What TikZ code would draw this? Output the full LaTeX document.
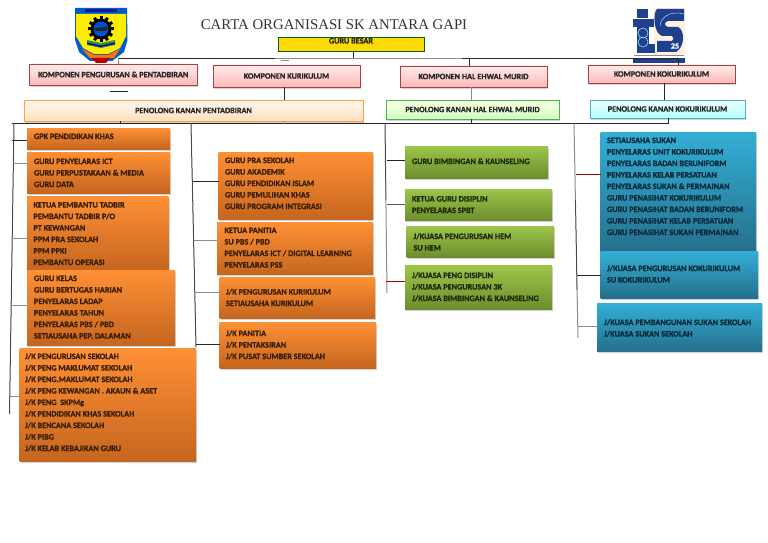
\documentclass[tikz,border=0pt]{standalone}
\usepackage{fontspec}
\setmainfont{Carlito}[BoldFeatures={FakeBold=1.1}]
\newfontfamily\titlefont{Liberation Serif}
\usetikzlibrary{shadows}
\definecolor{orT}{HTML}{FF9035}
\definecolor{orB}{HTML}{C5661F}
\definecolor{grT}{HTML}{9DC54A}
\definecolor{grB}{HTML}{6E8E2E}
\definecolor{blT}{HTML}{33AFD6}
\definecolor{blB}{HTML}{256F8B}
\definecolor{orTx}{HTML}{3A1E05}
\definecolor{grTx}{HTML}{1E2A08}
\definecolor{blTx}{HTML}{0A2A3A}
\definecolor{logoblue}{HTML}{1F3F8F}
\tikzset{
  x=1pt,y=-1pt,
  softshadow/.style={drop shadow={shadow xshift=1pt,shadow yshift=-1.5pt,opacity=.35,fill=black!50}},
  basebox/.style={anchor=north west,inner sep=0pt,outer sep=0pt,font=\fontsize{8.2}{11.5}\selectfont\bfseries},
  orangebox/.style={basebox,softshadow,top color=orT,bottom color=orB,text=orTx},
  greenbox/.style={basebox,softshadow,top color=grT,bottom color=grB,text=grTx},
  bluebox/.style={basebox,softshadow,top color=blT,bottom color=blB,text=blTx},
  komponen/.style={basebox,softshadow,draw=red!55!black!75,line width=.7pt,top color=red!7,bottom color=red!28,text=black!85},
  penP/.style={basebox,softshadow,draw=orange!75,line width=.7pt,top color=orange!6,bottom color=orange!25,text=black!85},
  penH/.style={basebox,softshadow,draw=green!40!gray,line width=.7pt,top color=lime!12,bottom color=lime!35!green!22,text=black!85},
  penK/.style={basebox,softshadow,draw=cyan!60!gray,line width=.7pt,top color=cyan!6,bottom color=cyan!30,text=black!85},
  gurubox/.style={basebox,softshadow,draw=green!40!black,line width=.6pt,fill=yellow!78!orange,text=black!85},
  link/.style={line width=.7pt,draw=black!85},
  linkgray/.style={line width=.8pt,draw=black!45},
  linkred/.style={line width=.7pt,draw=red!65!black},
}
% style, name, x0, y0, x1, y1, first-line offset, left pad, text
\newcommand\bx[9]{%
  \pgfmathsetlengthmacro\bw{#5-#3}%
  \pgfmathsetlengthmacro\bh{#6-#4}%
  \pgfmathsetlengthmacro\bt{#7-5}%
  \pgfmathsetlengthmacro\bp{#8}%
  \node[#1,minimum width=\bw,minimum height=\bh] (#2) at (#3,#4)
    {\parbox[c][\bh][t]{\bw}{\vspace*{\bt}\hspace*{\bp}\begin{tabular}[t]{@{}l@{}}#9\end{tabular}}};%
}
\newcommand\cx[7]{%
  \pgfmathsetlengthmacro\bw{#5-#3}%
  \pgfmathsetlengthmacro\bh{#6-#4}%
  \node[#1,minimum width=\bw,minimum height=\bh,align=center] (#2) at (#3,#4) {#7};%
}
\renewcommand\arraystretch{1}
\setlength\tabcolsep{0pt}
\begin{document}
\begin{tikzpicture}
\useasboundingbox (0,0) rectangle (768,543);
\fill[white] (0,0) rectangle (768,543);

% ---------- left crest
\fill[blue!55!cyan!80!black] (75,8) -- (127,8) -- (127.5,40) -- (124,52) -- (112,61) -- (90,61) -- (79,52) -- (75,40) -- cycle;
\fill[yellow!95!orange] (76,14) -- (126,14) -- (126,36) -- (120,48) -- (108,54) -- (94,54) -- (83,48) -- (76,36) -- cycle;
\fill[orange!90!red] (82,49) -- (94,55) -- (108,55) -- (120,49) -- (114,58) -- (90,58) -- cycle;
\fill[red!70!black] (92,58) -- (110,58) -- (106,63) -- (96,63) -- cycle;
\fill[black] (101,29) circle (10.5);
\foreach \a in {0,30,...,330}{\fill[black,rotate around={\a:(101,29)}] (99.5,16) rectangle (102.5,20);}
\fill[blue!60!cyan!80!black] (101,29) circle (7.5);
\fill[black!85] (94,28.5) -- (110,26) -- (105,31) -- (96,31) -- cycle;
\fill[green!50!black!80] (87,40) -- (101,43) -- (115,40) -- (115,45) -- (101,48) -- (87,45) -- cycle;
\fill[blue!70!black] (87,42.5) -- (101,45.5) -- (115,42.5) -- (115,44) -- (101,47) -- (87,44) -- cycle;
\fill[blue!50!black!90] (85,9.5) rectangle (117,12);

% ---------- right logo
\fill[orange!12!white] (654,8) rectangle (685,55);
\fill[logoblue] (637,9) rectangle (648,18);
\fill[logoblue] (633,19) rectangle (654,27);
\fill[logoblue] (637,27) rectangle (649,53);
\fill[logoblue] (649,44) rectangle (655,53);
\draw[cyan!40!white,line width=.6pt] (643,33) circle (5);
\draw[cyan!40!white,line width=.6pt] (643,42) circle (5);
\fill[logoblue] (657,9) -- (684,9) -- (684,21) -- (668,21) .. controls (664,22) and (664,26) .. (668,27) -- (678,27) .. controls (685,30) and (685,47) .. (676,52) -- (657,52) -- (657,41) -- (672,41) .. controls (674,40) and (674,37) .. (672,36) -- (662,36) .. controls (653,33) and (653,12) .. (657,9) -- cycle;
\draw[cyan!40!white,line width=.5pt] (684,14) .. controls (670,10) and (660,18) .. (660,26);
\node[inner sep=0pt,font=\fontsize{8}{8}\selectfont\bfseries,text=white] (lg25) at (675,46) {25};
\fill[black!45] (634,55) rectangle (684,56.5);
\fill[logoblue] (633,58) rectangle (685,63);

% ---------- title
\node[inner sep=0pt,text=black!80,font=\titlefont\fontsize{14.8}{14}\selectfont] (title) at (334,25) {CARTA ORGANISASI SK ANTARA GAPI};

% ---------- coordinates of the rails
\coordinate (topL) at (118,58);
\coordinate (topM) at (462,58);
\coordinate (topR) at (678,58);
\coordinate (railL) at (12,123.5);
\coordinate (railR) at (668,123.5);
\coordinate (tA0) at (14,123.5);   \coordinate (tA9) at (9.5,414);
\coordinate (tB0) at (191,123.5);  \coordinate (tB9) at (196,347);
\coordinate (tC0) at (385,123.5);  \coordinate (tC9) at (387,293);
\coordinate (tD0) at (574,123.5);  \coordinate (tD9) at (578,338);

% ---------- rails
\draw[linkgray] (topL) -- (topM);
\draw[link] (topL) -- (275,58);
\draw[link] (topM) -- (topR);
\draw[linkgray,line width=1pt] (281,61) -- (289,61);
\draw[link] (110,91) -- (128,91);
\draw[link] (railL) -- (railR);
\draw[linkgray,line width=1pt] (tA0) -- (tA9);
\draw[link,line width=.5pt] (tA0) -- (tA9);
\draw[linkgray,line width=1pt] (tB0) -- (tB9);
\draw[link,line width=.5pt] (tB0) -- (tB9);
\draw[linkgray,line width=1pt] (tC0) -- (tC9);
\draw[link,line width=.5pt] (tC0) -- (386,200);
\draw[linkgray,line width=1pt] (tD0) -- (tD9);
\draw[link,line width=.5pt] (575.5,200) -- (577,290);

% ---------- head boxes
\cx{gurubox}{guru}{278}{37}{424}{51}{\raisebox{0.5pt}[0pt][0pt]{GURU BESAR}}
\cx{komponen}{kP}{29.5}{64}{197}{85}{KOMPONEN PENGURUSAN \& PENTADBIRAN}
\cx{komponen}{kK}{213}{65}{360}{87}{KOMPONEN KURIKULUM}
\cx{komponen}{kH}{400}{66}{547}{87}{KOMPONEN HAL EHWAL MURID}
\cx{komponen}{kO}{588}{65}{735}{83}{KOMPONEN KOKURIKULUM}
\cx{penP}{pP}{24}{100}{363}{121}{PENOLONG KANAN PENTADBIRAN}
\cx{penH}{pH}{386}{100}{559}{119}{PENOLONG KANAN HAL EHWAL MURID}
\cx{penK}{pO}{590}{100}{745}{118}{PENOLONG KANAN KOKURIKULUM}

% ---------- orange, column 1
\bx{orangebox}{a1}{27}{128}{170}{149}{8}{7}{GPK PENDIDIKAN KHAS}
\bx{orangebox}{a2}{27}{152}{170}{193}{9}{7}{GURU PENYELARAS ICT\\GURU PERPUSTAKAAN \& MEDIA\\GURU DATA}
\bx{orangebox}{a3}{27}{196}{168.5}{270}{8.5}{6.5}{KETUA PEMBANTU TADBIR\\PEMBANTU TADBIR P/O\\PT KEWANGAN\\PPM PRA SEKOLAH\\PPM PPKI\\PEMBANTU OPERASI}
\bx{orangebox}{a4}{27}{270}{175}{345}{8}{7}{GURU KELAS\\GURU BERTUGAS HARIAN\\PENYELARAS LADAP\\PENYELARAS TAHUN\\PENYELARAS PBS / PBD\\SETIAUSAHA PEP. DALAMAN}
\bx{orangebox}{a5}{19.5}{348}{196}{461}{8}{5.5}{J/K PENGURUSAN SEKOLAH\\J/K PENG MAKLUMAT SEKOLAH\\J/K PENG.MAKLUMAT SEKOLAH\\J/K PENG KEWANGAN . AKAUN \& ASET\\J/K PENG\ \ SKPMg\\J/K PENDIDIKAN KHAS SEKOLAH\\J/K BENCANA SEKOLAH\\J/K PIBG\\J/K KELAB KEBAJIKAN GURU}

% ---------- orange, column 2
\bx{orangebox}{b1}{218.5}{152}{373}{219}{8}{6.5}{GURU PRA SEKOLAH\\GURU AKADEMIK\\GURU PENDIDIKAN ISLAM\\GURU PEMULIHAN KHAS\\GURU PROGRAM INTEGRASI}
\bx{orangebox}{b2}{217}{222}{373}{274}{8}{7.5}{KETUA PANITIA\\SU PBS / PBD\\PENYELARAS ICT / DIGITAL LEARNING\\PENYELARAS PSS}
\bx{orangebox}{b3}{219.5}{277}{375}{318}{14.5}{6.5}{J/K PENGURUSAN KURIKULUM\\SETIAUSAHA KURIKULUM}
\bx{orangebox}{b4}{219.5}{322}{376}{368}{11}{6.5}{J/K PANITIA\\J/K PENTAKSIRAN\\J/K PUSAT SUMBER SEKOLAH}

% ---------- green
\bx{greenbox}{c1}{405}{146}{548}{178}{15}{7}{GURU BIMBINGAN \& KAUNSELING}
\bx{greenbox}{c2}{405}{189}{552}{220}{9.5}{7}{KETUA GURU DISIPLIN\\PENYELARAS SPBT}
\bx{greenbox}{c3}{406.5}{226}{554}{257}{10}{7}{J/KUASA PENGURUSAN HEM\\SU HEM}
\bx{greenbox}{c4}{405}{265}{552}{309}{10}{7}{J/KUASA PENG DISIPLIN\\J/KUASA PENGURUSAN 3K\\J/KUASA BIMBINGAN \& KAUNSELING}

% ---------- blue
\bx{bluebox}{d1}{600.5}{132}{756}{253}{8}{6.5}{SETIAUSAHA SUKAN\\PENYELARAS UNIT KOKURIKULUM\\PENYELARAS BADAN BERUNIFORM\\PENYELARAS KELAB PERSATUAN\\PENYELARAS SUKAN \& PERMAINAN\\GURU PENASIHAT KOKURIKULUM\\GURU PENASIHAT BADAN BERUNIFORM\\GURU PENASIHAT KELAB PERSATUAN\\GURU PENASIHAT SUKAN PERMAINAN}
\bx{bluebox}{d2}{600.5}{251}{758}{298}{17}{6.5}{J/KUASA PENGURUSAN KOKURIKULUM\\SU KOKURIKULUM}
\bx{bluebox}{d3}{597}{303}{762}{351}{19}{7}{J/KUASA PEMBANGUNAN SUKAN SEKOLAH\\J/KUASA SUKAN SEKOLAH}

% ---------- connectors from head boxes
\draw[link] (guru.south -| 353,0) -- (353,58);
\draw[link] (kH.north -| 469,0) -- (469,58);
\draw[link] (kO.north -| 678,0) -- (678,58);
\draw[linkgray] (kP.north -| 118,0) -- (118,58);
\draw[link] (kK.south -| 284,0) -- (pP.north -| 284,0);
\draw[linkgray] (kH.south -| 471,0) -- (pH.north -| 471,0);
\draw[link] (kO.south -| 664,0) -- (pO.north -| 664,0);
\draw[link] (pP.south -| 120,0) -- (120,123.5);
\draw[linkgray] (pP.south -| 284,0) -- (284,123.5);
\draw[link] (pH.south -| 471,0) -- (471,123.5);
\draw[link] (pO.south -| 668,0) -- (railR);

% ---------- branches
\coordinate (sa1) at (12,140);   \coordinate (sa2) at (13,163.5);
\coordinate (sa3) at (12,238);   \coordinate (sa4) at (12,305.5);
\coordinate (sa5) at (10,396);
\coordinate (sb1) at (193,181);  \coordinate (sb2) at (194,240);
\coordinate (sb3) at (195,292.5);\coordinate (sb4) at (196,344);
\coordinate (sc1) at (387,160);  \coordinate (sc2) at (387,204.5);
\coordinate (sc4) at (386,281);
\coordinate (sd1) at (576,174);  \coordinate (sd2) at (577,275);
\coordinate (sd3) at (578,326);
\draw[link] (sa1) -- (a1.west |- sa1);
\draw[linkgray] (sa2) -- (a2.west |- sa2);
\draw[linkgray] (sa3) -- (a3.west |- sa3);
\draw[linkgray] (sa4) -- (a4.west |- sa4);
\draw[linkgray] (sa5) -- (a5.west |- sa5);
\draw[link] (sb1) -- (b1.west |- sb1);
\draw[linkgray] (sb2) -- (b2.west |- sb2);
\draw[linkgray] (sb3) -- (b3.west |- sb3);
\draw[link] (sb4) -- (b4.west |- sb4);
\draw[link] (sc1) -- (c1.west |- sc1);
\draw[link,draw=black!65] (sc2) -- (c2.west |- sc2);
\draw[linkred] (sc4) -- (c4.west |- sc4);
\draw[linkred] (sd1) -- (d1.west |- sd1);
\draw[link] (sd2) -- (d2.west |- sd2);
\draw[linkgray] (sd3) -- (d3.west |- sd3);
\end{tikzpicture}
\end{document}
